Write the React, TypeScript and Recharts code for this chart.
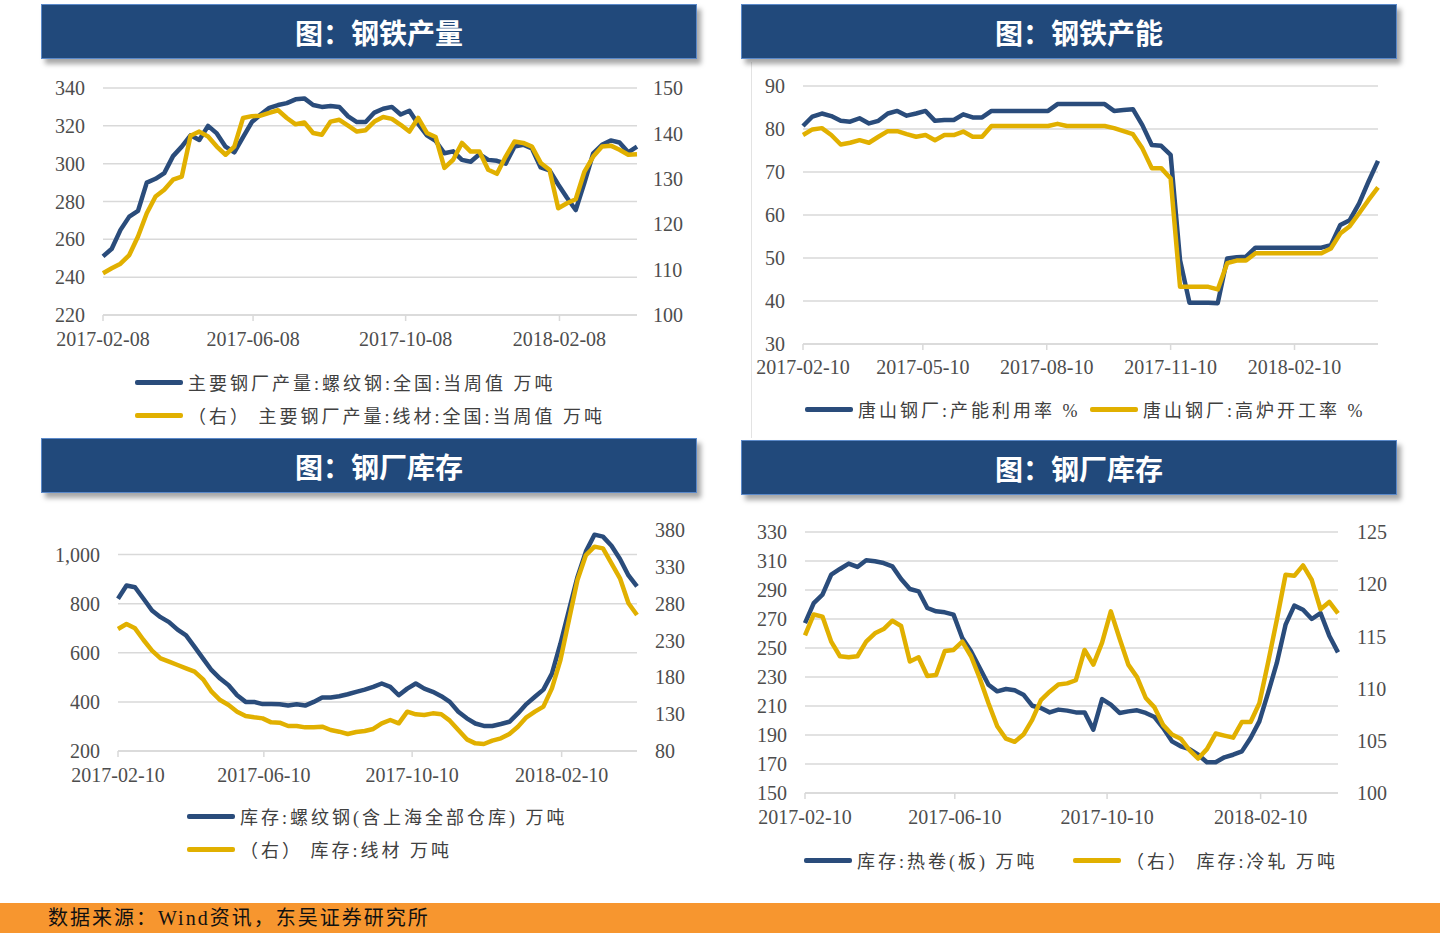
import React from 'react';
import { LineChart, Line, XAxis, YAxis, CartesianGrid } from 'recharts';

// ---------- data ----------
const DAY = 86400000;
const weekly = (start: string, n: number) =>
  Array.from({ length: n }, (_, i) => Date.parse(start) + i * 7 * DAY);
const ymd = (t: number) => new Date(t).toISOString().slice(0, 10);

// 钢铁产量 (weekly)
const prodDates = weekly('2017-02-08', 62);
const prodTicks = ['2017-02-08', '2017-06-08', '2017-10-08', '2018-02-08'];
const rebarOutput = [
  251, 255, 265, 272, 275, 290, 292, 295, 304, 309,
  315, 312.5, 320, 316, 309, 306, 314, 322, 326, 329.5,
  331, 332, 334, 334.5, 331, 330, 330.5, 330, 325, 322,
  322, 327, 329, 330, 326, 328, 321, 315, 312, 305.5,
  306.5, 302, 301, 305, 302, 301.5, 300, 309, 310, 308,
  298, 296.5, 289, 282, 275.5, 290, 305.5, 310, 312.3, 311.2,
  306, 309,
];
const wireOutput = [
  109.2, 110.3, 111.3, 113.2, 117.3, 122.4, 126.1, 127.6, 129.8, 130.5,
  139.5, 140.4, 139.3, 137.1, 135.3, 137.1, 143.4, 143.8, 143.9, 144.5,
  145.1, 143.4, 142, 142.4, 140.1, 139.7, 142.6, 143, 141.7, 140.4,
  140.7, 142.6, 143.6, 143.2, 141.9, 140.4, 143.4, 140.1, 139.2, 132.4,
  134.2, 137.9, 136, 136, 132, 131.1, 134.9, 138.2, 137.9, 137.1,
  133.5, 132, 123.5, 124.6, 125.5, 131.6, 134.9, 137.1, 137.3, 136.4,
  135.3, 135.4,
];

// 钢铁产能 (weekly)
const capDates = weekly('2017-02-10', 62);
const capTicks = ['2017-02-10', '2017-05-10', '2017-08-10', '2017-11-10', '2018-02-10'];
const capacityUtil = [
  80.7, 82.9, 83.6, 83, 81.9, 81.7, 82.5, 81.3, 81.9, 83.6,
  84.2, 83.1, 83.6, 84.2, 81.9, 82.1, 82.1, 83.4, 82.7, 82.7,
  84.2, 84.2, 84.2, 84.2, 84.2, 84.2, 84.2, 85.8, 85.8, 85.8,
  85.8, 85.8, 85.8, 84.2, 84.4, 84.6, 80.9, 76.3, 76.1, 74,
  49.5, 39.6, 39.6, 39.6, 39.5, 49.9, 50.2, 50.3, 52.4, 52.4,
  52.4, 52.4, 52.4, 52.4, 52.4, 52.4, 53, 57.7, 58.8, 62.7,
  67.8, 72.6,
];
const furnaceRate = [
  78.6, 79.9, 80.2, 78.6, 76.4, 76.8, 77.4, 76.8, 78.2, 79.5,
  79.5, 78.8, 78.2, 78.6, 77.4, 78.6, 78.6, 79.4, 78.2, 78.2,
  80.7, 80.7, 80.7, 80.7, 80.7, 80.7, 80.7, 81.2, 80.7, 80.7,
  80.7, 80.7, 80.7, 80.2, 79.5, 78.8, 75.5, 70.9, 70.9, 68.5,
  43.3, 43.3, 43.3, 43.3, 42.7, 48.8, 49.4, 49.4, 51.1, 51.1,
  51.1, 51.1, 51.1, 51.1, 51.1, 51.1, 52.2, 55.7, 57.4, 60.4,
  63.5, 66.4,
];

// 钢厂库存: 螺纹钢 / 线材
const invDates = weekly('2017-02-10', 62);
const invTicks = ['2017-02-10', '2017-06-10', '2017-10-10', '2018-02-10'];
const rebarStock = [
  820, 874, 867, 820, 772, 745, 725, 694, 671, 624,
  576, 529, 495, 468, 427, 400, 400, 391, 391, 390,
  385, 390, 385, 400, 418, 418, 423, 431, 441, 450,
  461, 475, 461, 427, 454, 475, 454, 441, 423, 400,
  360, 333, 312, 302, 302, 310, 319, 353, 391, 421,
  450, 515, 637, 773, 908, 1013, 1081, 1073, 1036, 982,
  915, 870,
];
const wireStock = [
  245.6, 252.4, 246.5, 230.7, 216.2, 205.8, 201.3, 196.7, 192.2, 187.7,
  177.3, 160.5, 149.2, 142.4, 133.4, 127.5, 125.7, 124.3, 118.9, 118.5,
  113.9, 113.9, 112.1, 112.1, 113, 108.5, 106.2, 103.1, 105.8, 107.2,
  109.9, 117.6, 122.1, 117.6, 133.4, 129.8, 128.9, 131.1, 129.8, 121.2,
  108.5, 95.8, 90.4, 89.5, 94, 97.2, 103.1, 113, 125.7, 133.4,
  140.2, 165, 203.5, 257.8, 312, 346, 357.4, 355, 334.8, 314.4,
  280.5, 264.6,
];

// 钢厂库存: 热卷 / 冷轧
const coilDates = weekly('2017-02-10', 62);
const coilTicks = ['2017-02-10', '2017-06-10', '2017-10-10', '2018-02-10'];
const hotCoilStock = [
  267.2, 281, 286.8, 300.6, 304.5, 308.2, 305.9, 310.5, 309.8, 308.6,
  306.3, 297.6, 290.7, 289.1, 277.6, 275.3, 274.6, 273, 256.9, 247.7,
  236.2, 224.7, 220.1, 221.7, 220.8, 217.8, 210.2, 208.6, 205.6, 207.5,
  206.8, 205.6, 205.6, 193.7, 214.8, 210.9, 205.2, 206.3, 207, 205.2,
  202.4, 194.8, 185.6, 182.2, 180.3, 176.4, 171.2, 171.2, 174.6, 176.4,
  178.7, 187.9, 199.4, 219, 239.7, 266.1, 279.2, 276.4, 270, 274.1,
  258.5, 247,
];
const coldRolledStock = [
  115.1, 117.1, 116.9, 114.5, 113.1, 113, 113.1, 114.5, 115.3, 115.7,
  116.5, 116, 112.6, 113, 111.2, 111.3, 113.6, 113.7, 114.5, 113.1,
  111, 108.6, 106.4, 105.2, 104.9, 105.6, 107, 108.9, 109.7, 110.4,
  110.5, 110.8, 113.7, 112.3, 114.4, 117.4, 114.8, 112.3, 111.1, 109.1,
  108.2, 106.5, 105.6, 105.2, 104.1, 103.3, 104.2, 105.7, 105.5, 105.3,
  106.8, 106.8, 108.6, 112.5, 116.6, 120.9, 120.8, 121.8, 120.4, 117.6,
  118.3, 117.2,
];

// ---------- styles ----------
const BLUE = '#2A4C7B';
const GOLD = '#E1B000';
const GRID = '#D9D9D9';
const TICK_FONT = { fill: '#4D4D4D', fontSize: 20, fontFamily: "'Liberation Serif', serif" };
const CJK = "'Liberation Serif', 'Noto Sans CJK SC', sans-serif";

type Series = { values: number[]; color: string; axis: 'L' | 'R' };

type ChartProps = {
  left: number; top: number; width: number; height: number;
  marginTop: number; marginRight: number;
  leftWidth: number; rightWidth?: number; xHeight: number;
  dates: number[]; xTicks: string[];
  leftDomain: [number, number]; leftTicks: number[];
  rightDomain?: [number, number]; rightTicks?: number[];
  leftFormat?: (v: number) => string;
  leftGap: number; rightGap?: number; xGap: number;
  series: Series[];
};

function DualChart(p: ChartProps) {
  const rows = p.dates.map((t, i) => {
    const r: Record<string, number> = { t };
    p.series.forEach((s, k) => { r['s' + k] = s.values[i]; });
    return r;
  });
  return (
    <div style={{ position: 'absolute', left: p.left, top: p.top }}>
      <LineChart
        width={p.width}
        height={p.height}
        data={rows}
        margin={{ top: p.marginTop, right: p.marginRight, bottom: 0, left: 0 }}
      >
        <CartesianGrid
          yAxisId="L"
          vertical={false}
          horizontalValues={p.leftTicks}
          stroke={GRID}
          strokeWidth={1.5}
        />
        <XAxis
          dataKey="t"
          type="number"
          domain={[p.dates[0], p.dates[p.dates.length - 1]]}
          ticks={p.xTicks.map((d) => Date.parse(d))}
          tickFormatter={ymd}
          interval={0}
          height={p.xHeight}
          axisLine={{ stroke: GRID, strokeWidth: 1.5 }}
          tickLine={{ stroke: GRID, strokeWidth: 1.5 }}
          tickSize={6}
          tickMargin={p.xGap}
          tick={TICK_FONT}
        />
        <YAxis
          yAxisId="L"
          orientation="left"
          width={p.leftWidth}
          domain={p.leftDomain}
          ticks={p.leftTicks}
          interval={0}
          allowDataOverflow
          axisLine={false}
          tickLine={false}
          tickSize={0}
          tickMargin={p.leftGap}
          tickFormatter={p.leftFormat}
          tick={TICK_FONT}
        />
        {p.rightDomain && (
          <YAxis
            yAxisId="R"
            orientation="right"
            width={p.rightWidth}
            domain={p.rightDomain}
            ticks={p.rightTicks}
            interval={0}
            allowDataOverflow
            axisLine={false}
            tickLine={false}
            tickSize={0}
            tickMargin={p.rightGap}
            tick={{ ...TICK_FONT, textAnchor: 'start' }}
          />
        )}
        {p.series.map((s, k) => (
          <Line
            key={k}
            yAxisId={s.axis}
            dataKey={'s' + k}
            type="linear"
            stroke={s.color}
            strokeWidth={4.5}
            strokeLinejoin="round"
            dot={false}
            activeDot={false}
            isAnimationActive={false}
          />
        ))}
      </LineChart>
    </div>
  );
}

function Header({ left, top, text }: { left: number; top: number; text: string }) {
  return (
    <div
      style={{
        position: 'absolute', left, top, width: 656, height: 55,
        background: '#21497B', border: '1px solid #5B89C9',
        boxShadow: '4px 5px 5px rgba(0,0,0,0.35)',
        color: '#fff', fontFamily: "'Noto Sans CJK SC', sans-serif",
        fontWeight: 700, fontSize: 28, lineHeight: '55px',
        textAlign: 'center', paddingLeft: 20, boxSizing: 'border-box',
      }}
    >
      {text}
    </div>
  );
}

function LegendItem({ x, y, color, label }: { x: number; y: number; color: string; label: string }) {
  return (
    <div style={{ position: 'absolute', left: x, top: y - 14, height: 28, display: 'flex', alignItems: 'center', whiteSpace: 'nowrap' }}>
      <span style={{ display: 'inline-block', width: 48, height: 5, background: color, borderRadius: 2 }} />
      <span style={{ marginLeft: 5, fontFamily: CJK, fontSize: 18, letterSpacing: 3, color: '#404040' }}>{label}</span>
    </div>
  );
}

export default function App() {
  return (
    <div style={{ position: 'absolute', left: 0, top: 0, width: 1440, height: 933, background: '#fff', overflow: 'hidden' }}>
      {/* 钢铁产量 */}
      <Header left={41} top={4} text="图：钢铁产量" />
      <DualChart
        left={40} top={70} width={660} height={290}
        marginTop={18} marginRight={0}
        leftWidth={63} rightWidth={63} xHeight={45}
        dates={prodDates} xTicks={prodTicks}
        leftDomain={[220, 340]} leftTicks={[220, 240, 260, 280, 300, 320, 340]}
        rightDomain={[100, 150]} rightTicks={[100, 110, 120, 130, 140, 150]}
        leftGap={18} rightGap={16} xGap={11}
        series={[
          { values: rebarOutput, color: BLUE, axis: 'L' },
          { values: wireOutput, color: GOLD, axis: 'R' },
        ]}
      />
      <LegendItem x={135} y={382} color={BLUE} label="主要钢厂产量:螺纹钢:全国:当周值 万吨" />
      <LegendItem x={135} y={415} color={GOLD} label="（右） 主要钢厂产量:线材:全国:当周值 万吨" />

      {/* 钢铁产能 */}
      <div style={{ position: 'absolute', left: 751, top: 62, width: 1, height: 376, background: '#E3E3E3' }} />
      <Header left={741} top={4} text="图：钢铁产能" />
      <DualChart
        left={740} top={70} width={660} height={320}
        marginTop={16} marginRight={22}
        leftWidth={63} xHeight={46}
        dates={capDates} xTicks={capTicks}
        leftDomain={[30, 90]} leftTicks={[30, 40, 50, 60, 70, 80, 90]}
        leftGap={18} xGap={10}
        series={[
          { values: capacityUtil, color: BLUE, axis: 'L' },
          { values: furnaceRate, color: GOLD, axis: 'L' },
        ]}
      />
      <LegendItem x={805} y={409} color={BLUE} label="唐山钢厂:产能利用率 %" />
      <LegendItem x={1090} y={409} color={GOLD} label="唐山钢厂:高炉开工率 %" />

      {/* 钢厂库存: 螺纹钢 / 线材 */}
      <Header left={41} top={438} text="图：钢厂库存" />
      <DualChart
        left={40} top={515} width={660} height={280}
        marginTop={15} marginRight={0}
        leftWidth={78} rightWidth={63} xHeight={44}
        dates={invDates} xTicks={invTicks}
        leftDomain={[200, 1100]} leftTicks={[200, 400, 600, 800, 1000]}
        leftFormat={(v) => v.toLocaleString('en-US')}
        rightDomain={[80, 380]} rightTicks={[80, 130, 180, 230, 280, 330, 380]}
        leftGap={18} rightGap={18} xGap={11}
        series={[
          { values: rebarStock, color: BLUE, axis: 'L' },
          { values: wireStock, color: GOLD, axis: 'R' },
        ]}
      />
      <LegendItem x={187} y={816} color={BLUE} label="库存:螺纹钢(含上海全部仓库) 万吨" />
      <LegendItem x={187} y={849} color={GOLD} label="（右） 库存:线材 万吨" />

      {/* 钢厂库存: 热卷 / 冷轧 */}
      <Header left={741} top={440} text="图：钢厂库存" />
      <DualChart
        left={740} top={515} width={660} height={325}
        marginTop={17} marginRight={0}
        leftWidth={65} rightWidth={62} xHeight={47}
        dates={coilDates} xTicks={coilTicks}
        leftDomain={[150, 330]} leftTicks={[150, 170, 190, 210, 230, 250, 270, 290, 310, 330]}
        rightDomain={[100, 125]} rightTicks={[100, 105, 110, 115, 120, 125]}
        leftGap={18} rightGap={19} xGap={11}
        series={[
          { values: hotCoilStock, color: BLUE, axis: 'L' },
          { values: coldRolledStock, color: GOLD, axis: 'R' },
        ]}
      />
      <LegendItem x={804} y={860} color={BLUE} label="库存:热卷(板) 万吨" />
      <LegendItem x={1073} y={860} color={GOLD} label="（右） 库存:冷轧 万吨" />

      {/* 数据来源 */}
      <div
        style={{
          position: 'absolute', left: 0, top: 903, width: 1440, height: 30,
          background: '#F7962F', fontFamily: CJK, fontSize: 20, letterSpacing: 2,
          lineHeight: '30px', color: '#111', paddingLeft: 48, boxSizing: 'border-box',
        }}
      >
        数据来源：Wind资讯，东吴证券研究所
      </div>
    </div>
  );
}
